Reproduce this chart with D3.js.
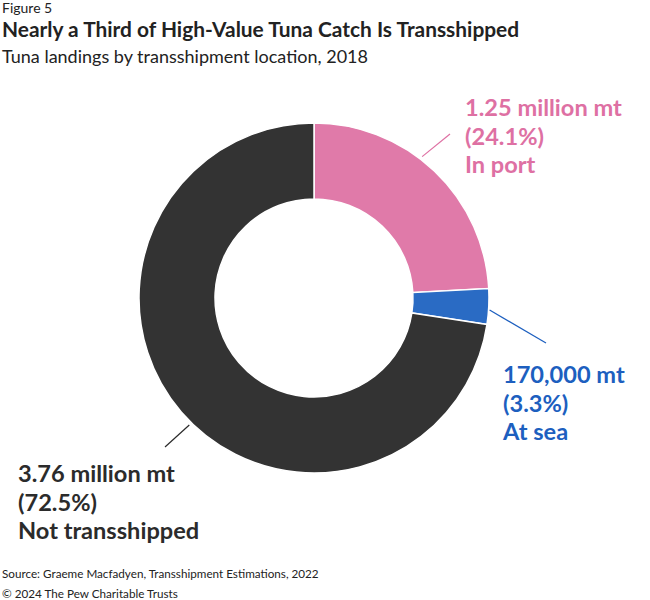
<!DOCTYPE html>
<html>
<head>
<meta charset="utf-8">
<script src="https://cdn.jsdelivr.net/npm/d3@7"></script>
<style>
  body { margin: 0; background: #fff; }
  svg { font-family: Lato, "Open Sans", sans-serif; }
</style>
</head>
<body>
<svg id="main"></svg>
<script>
// data
var categories = ["In port", "At sea", "Not transshipped"];
var values = [1.25, 0.17, 3.76]; // million mt
var amountLabels = ["1.25 million mt", "170,000 mt", "3.76 million mt"];
var pctLabels = ["(24.1%)", "(3.3%)", "(72.5%)"];
var colors = ["#e07aa9", "#2a6bc4", "#333333"];
var textColors = ["#de70a3", "#1d5fbf", "#2b2b2b"];

var w = 650;
var h = 600;
var cx = 314;
var cy = 298;
var outerR = 175;
var innerR = 99;

var svg = d3.select("#main")
  .attr("width", w)
  .attr("height", h);

// titles
svg.append("text").attr("x", 2).attr("y", 13)
  .style("font-size", "14px").attr("fill", "#222").text("Figure 5");
svg.append("text").attr("x", 2).attr("y", 37)
  .style("font-size", "20.9px").style("font-weight", "bold").attr("fill", "#222")
  .text("Nearly a Third of High-Value Tuna Catch Is Transshipped");
svg.append("text").attr("x", 2).attr("y", 63)
  .style("font-size", "18px").attr("fill", "#222")
  .text("Tuna landings by transshipment location, 2018");

var pie = d3.pie().sort(null)(values);
var arc = d3.arc().innerRadius(innerR).outerRadius(outerR);

var g = svg.append("g").attr("transform", "translate(" + cx + "," + cy + ")");

g.selectAll("path")
  .data(pie)
  .enter()
  .append("path")
  .attr("d", arc)
  .attr("fill", function(d, i) { return colors[i]; })
  .attr("stroke", "#fff")
  .attr("stroke-width", 1.5);

// leader lines: start angle on ring (offset from slice mid), end point relative to center
var leaders = [
  { angOff: -0.105, r0: outerR + 3, end: [136, -164] },
  { angOff: 0.02, r0: outerR + 1, end: [232, 45] },
  { angOff: -0.085, r0: outerR + 3, end: [-149, 149] }
];

g.selectAll("line.leader")
  .data(pie)
  .enter()
  .append("line")
  .attr("class", "leader")
  .attr("x1", function(d, i) { var a = (d.startAngle + d.endAngle) / 2 + leaders[i].angOff; return Math.sin(a) * leaders[i].r0; })
  .attr("y1", function(d, i) { var a = (d.startAngle + d.endAngle) / 2 + leaders[i].angOff; return -Math.cos(a) * leaders[i].r0; })
  .attr("x2", function(d, i) { return leaders[i].end[0]; })
  .attr("y2", function(d, i) { return leaders[i].end[1]; })
  .attr("stroke", function(d, i) { return textColors[i]; })
  .attr("stroke-width", 1.2);

// labels
var labelPos = [[465, 116], [503, 383], [18, 482]];
var lineH = 28.5;

categories.forEach(function(cat, i) {
  var t = svg.append("text")
    .attr("x", labelPos[i][0])
    .attr("y", labelPos[i][1])
    .attr("fill", textColors[i])
    .style("font-size", "23.6px")
    .style("font-weight", "bold");
  [amountLabels[i], pctLabels[i], cat].forEach(function(s, j) {
    t.append("tspan").attr("x", labelPos[i][0]).attr("dy", j === 0 ? 0 : lineH).text(s);
  });
});

// footer
svg.append("text").attr("x", 2).attr("y", 578)
  .style("font-size", "11.7px").attr("fill", "#222")
  .text("Source: Graeme Macfadyen, Transshipment Estimations, 2022");
svg.append("text").attr("x", 2).attr("y", 598)
  .style("font-size", "11.7px").attr("fill", "#222")
  .text("\u00a9 2024 The Pew Charitable Trusts");
</script>
</body>
</html>
